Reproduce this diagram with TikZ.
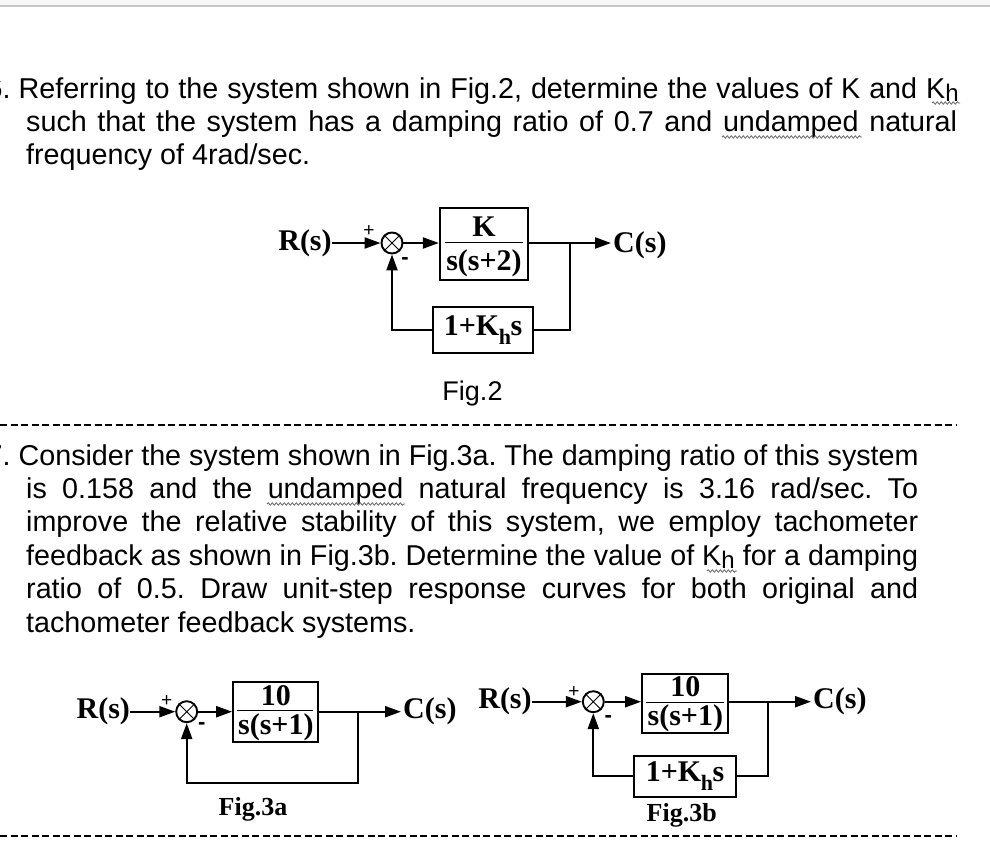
\documentclass[tikz,border=0pt]{standalone}
\usepackage{fontspec}
\setmainfont{Liberation Sans}
\newfontfamily\tnr{Liberation Serif}
\usetikzlibrary{arrows.meta,decorations.pathmorphing}
\frenchspacing
\newcommand{\Ksub}{K\raisebox{-0.13em}{\fontsize{24}{24}\selectfont h}}
\newcommand{\Khs}{1+K\kern-0.5pt\raisebox{-0.3em}{\fontsize{22}{22}\selectfont h}\kern-0.5pt s}
\begin{document}
\begin{tikzpicture}[x=1pt,y=-1pt,
  txt/.style={inner sep=0,anchor=base west,font=\fontsize{28.7}{30}\selectfont},
  dg/.style={inner sep=0,font=\tnr\bfseries\fontsize{30}{30}\selectfont},
  fig/.style={inner sep=0,anchor=base,font=\tnr\bfseries\fontsize{26}{26}\selectfont},
  blk/.style={draw,line width=2.3pt,inner sep=0,rectangle},
  sumj/.style={draw,circle,line width=1.9pt,inner sep=0,minimum size=21pt},
  ln/.style={line width=2.2pt},
  arr/.style={line width=2.2pt,-{Triangle[length=16pt,width=11pt]}},
  bar/.style={line width=1.5pt},
  sgn/.style={inner sep=0,font=\fontsize{19}{19}\selectfont},
  msgn/.style={inner sep=0,font=\bfseries\fontsize{22}{22}\selectfont},
  wavy/.style={gray!80!black,line width=0.8pt,decorate,decoration={snake,amplitude=1.2pt,segment length=4pt}},
  sepline/.style={line width=2pt,dash pattern=on 7pt off 3.5pt}
]
\useasboundingbox (0,0) rectangle (990,846);
\fill[white] (0,0) rectangle (990,846);
\begin{scope}
\clip (0,0) rectangle (990,846);
% top strip
\fill[gray!6] (0,0) rectangle (990,5);
\fill[gray!45] (0,5) rectangle (990,7);

% paragraph 1
\node[txt] (p1a) at (-13.5,98) {\hbox to 972pt{6.\kern8pt Referring to the system shown in Fig.2, determine the values of K and \Ksub}};
\node[txt] (p1b) at (26,131.4) {\hbox to 931pt{such that the system has a damping ratio of 0.7 and undamped natural}};
\node[txt] (p1c) at (26,164.8) {frequency of 4rad/sec.};
\draw[wavy] (932,103) -- (960,103);
\draw[wavy] (722,137) -- (862,137);

% Fig.2
\node[dg] (R2) at (305,243) {R(s)};
\node[sumj] (S2) at (392,243) {};
\draw[line width=0.9pt] (S2.45) -- (S2.225) (S2.135) -- (S2.315);
\node[blk,minimum width=88pt,minimum height=72pt] (G2) at (484,244) {};
\node[dg] (G2n) at (484,227) {K};
\node[dg] (G2d) at (484,263) {s(s+2)};
\draw[bar] (445,242.7) -- (523,242.7);
\node[dg,anchor=west] (C2) at (613,245) {C(s)};
\coordinate (B2) at (570,243);
\node[blk,minimum width=100pt,minimum height=46pt,dg] (H2) at (483,330) {\Khs};
\draw[arr] (R2) -- (S2);
\draw[arr] (S2) -- (S2 -| G2.west);
\draw[arr] (G2.east |- S2) -- ([xshift=-2pt]C2.west |- S2);
\draw[ln] (B2) |- (H2.east);
\draw[arr] (H2.west) -| (S2.south);
\node[sgn] (P2) at (369,231) {+};
\node[msgn] (M2) at (405,261) {-};
\node[inner sep=0,anchor=base,font=\fontsize{27}{27}\selectfont] (F2) at (472.5,400) {Fig.2};

\draw[sepline] (0,425) -- (956,425);

% paragraph 2
\node[txt] (p2a) at (-13.5,465) {\hbox to 932pt{7.\kern8pt Consider the system shown in Fig.3a. The damping ratio of this system}};
\node[txt] (p2b) at (26,498.4) {\hbox to 892pt{is 0.158 and the undamped natural frequency is 3.16 rad/sec. To}};
\node[txt] (p2c) at (26,531.8) {\hbox to 892pt{improve the relative stability of this system, we employ tachometer}};
\node[txt] (p2d) at (26,565.2) {\hbox to 892pt{feedback as shown in Fig.3b. Determine the value of \Ksub{} for a damping}};
\node[txt] (p2e) at (26,598.6) {\hbox to 892pt{ratio of 0.5. Draw unit-step response curves for both original and}};
\node[txt] (p2f) at (26,632) {tachometer feedback systems.};
\draw[wavy] (267,504) -- (405,504);
\draw[wavy] (707,571) -- (737,571);

% Fig.3a
\node[dg] (R3a) at (103.3,711.7) {R(s)};
\node[sumj] (S3a) at (186.7,711.7) {};
\draw[line width=0.9pt] (S3a.45) -- (S3a.225) (S3a.135) -- (S3a.315);
\node[blk,minimum width=85pt,minimum height=60pt] (G3a) at (275.8,711.7) {};
\node[dg] (G3an) at (275.8,696) {10};
\node[dg] (G3ad) at (275.8,727) {s(s+1)};
\draw[bar] (236.7,710.7) -- (313.3,710.7);
\node[dg,anchor=west] (C3a) at (403,711.7) {C(s)};
\coordinate (B3a) at (358.3,711.7);
\coordinate (D3a) at (358.3,783.3);
\draw[arr] (R3a) -- (S3a);
\draw[arr] (S3a) -- (S3a -| G3a.west);
\draw[arr] (G3a.east |- S3a) -- ([xshift=-2pt]C3a.west |- S3a);
\draw[arr] (B3a) -- (D3a) -| (S3a.south);
\node[sgn] (P3a) at (166.7,700.7) {+};
\node[msgn] (M3a) at (201.7,726.3) {-};
\node[fig] (F3a) at (253,815) {Fig.3a};

% Fig.3b
\node[dg] (R3b) at (505,701.7) {R(s)};
\node[sumj] (S3b) at (593.3,701.7) {};
\draw[line width=0.9pt] (S3b.45) -- (S3b.225) (S3b.135) -- (S3b.315);
\node[blk,minimum width=86pt,minimum height=59pt] (G3b) at (685.3,703.8) {};
\node[dg] (G3bn) at (685.3,686.5) {10};
\node[dg] (G3bd) at (685.3,718.5) {s(s+1)};
\draw[bar] (646,702.7) -- (724,702.7);
\node[dg,anchor=west] (C3b) at (813,701.7) {C(s)};
\coordinate (B3b) at (768.3,701.7);
\node[blk,minimum width=102pt,minimum height=41pt,dg] (H3b) at (685,776.2) {\Khs};
\draw[arr] (R3b) -- (S3b);
\draw[arr] (S3b) -- (S3b -| G3b.west);
\draw[arr] (G3b.east |- S3b) -- ([xshift=-2pt]C3b.west |- S3b);
\draw[ln] (B3b) |- (H3b.east);
\draw[arr] (H3b.west) -| (S3b.south);
\node[sgn] (P3b) at (574,692.3) {+};
\node[msgn] (M3b) at (608.3,719) {-};
\node[fig] (F3b) at (681.7,821) {Fig.3b};

\draw[sepline] (0,836) -- (956,836);
\end{scope}
\end{tikzpicture}
\end{document}
